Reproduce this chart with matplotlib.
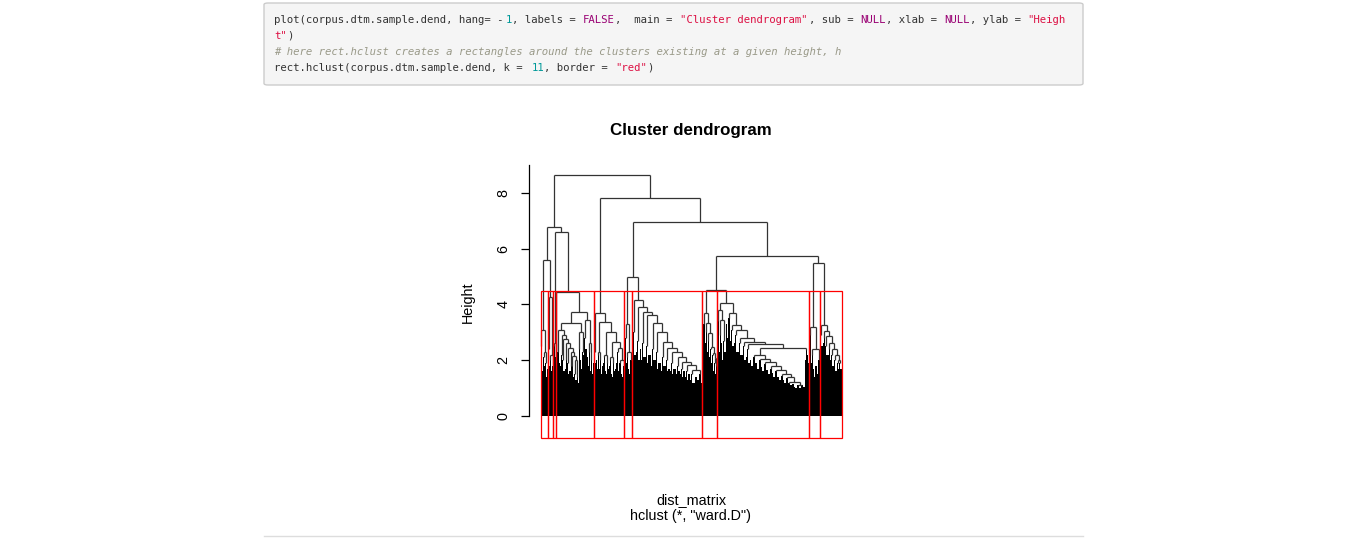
import matplotlib
matplotlib.use("Agg")
import matplotlib.pyplot as plt
from matplotlib.patches import Rectangle, FancyBboxPatch
from matplotlib.collections import LineCollection

W, H = 1346, 538

# --- code chunk shown above the plot ---
CODE_LINES = [
    [("plot(corpus.dtm.sample.dend, hang= -", "k"), ("1", "num"), (", labels = ", "k"),
     ("FALSE", "lit"), (",  main = ", "k"), ('"Cluster dendrogram"', "str"), (", sub = ", "k"),
     ("NULL", "lit"), (", xlab = ", "k"), ("NULL", "lit"), (", ylab = ", "k"), ('"Heigh', "str")],
    [('t"', "str"), (")", "k")],
    [("# here rect.hclust creates a rectangles around the clusters existing at a given height, h", "com")],
    [("rect.hclust(corpus.dtm.sample.dend, k = ", "k"), ("11", "num"), (", border = ", "k"),
     ('"red"', "str"), (")", "k")],
]
CODE_COLORS = {"k": "#333333", "num": "#009999", "lit": "#990073", "str": "#dd1144", "com": "#999988"}

# --- dendrogram data ---
# block = (leaf width, strip heights...) for the dense bottom part, merge = [height, left, right]
def ladder(heights, blocks, last):
    node = last
    for h, b in zip(reversed(heights), reversed(blocks)):
        node = [h, b, node]
    return node

C1 = [3.08, (1.6, 2.5, 1.9), [2.3, (3.0, 1.6, 2.1, 1.8), (3.0, 1.9, 1.4, 1.7)]]
C2 = [4.28, (1.4, 2.4, 1.8), [2.2, (1.9, 2.0, 1.6), (1.7, 1.5, 1.8)]]
C3 = [2.6, (1.2, 2.5), (1.5, 1.7, 2.1)]
C4 = [4.46, (1.4, 1.9, 1.5),
      [3.74,
       [3.32,
        ladder([3.08, 2.9, 2.75, 2.6, 2.45, 2.3, 2.15, 2.0],
               [(2.4, 2.3, 1.9), (2.4, 1.8, 2.2), (2.4, 2.0, 1.6), (2.4, 1.7, 2.0),
                (2.4, 1.9, 1.5), (2.4, 1.6, 1.8), (2.4, 1.8, 1.4), (2.4, 1.5, 1.3)],
               (1.9, 1.4, 1.2)),
        [3.0, (2.5, 2.4, 2.0), (2.0, 1.7, 2.3)]],
       [3.44, (3.5, 2.2, 2.8, 2.4),
        [2.6, (3.0, 2.1, 1.8, 2.3), (4.8, 1.6, 2.0, 1.5, 1.9)]]]]
C5 = [3.68, (1.4, 2.3, 1.9),
      [3.36, [2.3, (3, 2.0, 1.7, 2.2), (4, 1.7, 2.0, 1.5, 1.8)],
       [3.0, [2.2, (3, 1.9, 2.1, 1.6), (3, 1.5, 1.9, 1.7)],
        [2.67, [2.1, (3, 1.8, 2.0, 1.5), (4, 1.4, 1.9, 1.6, 1.7)],
         [2.45, (2.5, 1.9, 2.3), [2.0, (3.5, 1.6, 1.9, 1.5), (2.6, 1.4, 1.8)]]]]]]
C6 = [3.3, (1.6, 2.3, 2.8), [2.3, (3.0, 1.9, 2.1, 1.7), (2.8, 1.5, 2.0)]]
C7 = ladder([4.16, 3.92, 3.74, 3.62, 3.32, 3.02, 2.66, 2.43, 2.3, 2.13, 1.95, 1.83, 1.65],
            [(4, 2.6, 3.0, 2.2), (4, 2.3, 2.7, 2.0), (5, 2.4, 2.0, 2.6, 2.1), (5, 2.1, 2.5, 1.9, 2.2),
             (5, 2.2, 1.8, 2.4, 2.0), (5, 2.0, 2.3, 1.7, 1.9), (5, 1.9, 1.6, 2.1, 1.8),
             (5, 1.8, 2.0, 1.6, 1.7), (5, 1.6, 1.9, 1.5, 1.7), (5, 1.7, 1.5, 1.8, 1.6),
             (5, 1.5, 1.7, 1.4, 1.6), (5, 1.4, 1.6, 1.3, 1.5), (4, 1.3, 1.5, 1.2)],
            (8.6, 1.2, 1.4, 1.3, 1.5, 1.2))
C8 = ladder([3.68, 3.32, 2.96, 2.48, 2.25, 2.07],
            [(2.2, 2.9, 3.3), (2.2, 2.6, 3.0), (2.2, 2.3, 2.7), (2.2, 2.1, 2.4),
             (2, 1.9, 2.2), (2, 1.6, 1.9)],
            (1.6, 1.5, 1.8))
C9_low = ladder([2.19, 2.05, 1.95, 1.8, 1.65, 1.5, 1.38, 1.23, 1.12],
                [(5.5, 2.0, 1.8, 2.1), (5.5, 1.9, 1.7, 2.0), (5.5, 1.75, 1.6, 1.85),
                 (5.5, 1.65, 1.5, 1.7), (5.5, 1.55, 1.4, 1.6), (5.5, 1.4, 1.3, 1.45),
                 (5.5, 1.3, 1.2, 1.35), (5.5, 1.2, 1.1, 1.15), (5.5, 1.05, 1.0, 1.1)],
                (5.5, 1.0, 1.1, 1.05))
C9 = [4.04,
      [3.8, (2.0, 2.9, 3.4), [3.45, (3.0, 2.3, 2.9, 2.6), (3.8, 2.0, 2.7, 2.3)]],
      ladder([3.7, 3.26, 3.08, 2.8, 2.66, 2.58],
             [(4, 3.3, 2.8, 3.5), (4, 2.7, 3.1, 2.5), (4, 2.6, 2.9, 2.3),
              (4, 2.3, 2.6, 2.2), (4, 2.2, 2.5, 2.0), (4, 2.1, 2.4, 1.9)],
             [2.42, C9_low, (4.8, 2.0, 2.35, 2.2, 1.9)])]
C10 = [3.2, (1.4, 2.2, 2.9), [2.4, (3.0, 1.9, 2.2, 1.7), (6.3, 1.4, 1.8, 1.5, 2.0)]]
C11 = ladder([3.26, 3.05, 2.85, 2.6, 2.4, 2.2, 2.0],
             [(2.5, 2.9, 2.5), (2.5, 2.6, 2.8), (2.5, 2.5, 2.2), (2.5, 2.2, 2.4),
              (3, 2.0, 2.2, 1.8), (3, 1.8, 2.0, 1.6), (3, 1.6, 1.9, 1.7)],
             (2.7, 1.9, 1.7))

clusters = [C1, C2, C3, C4, C5, C6, C7, C8, C9, C10, C11]
tree = [8.64,
        [6.79, [5.59, C1, C2], [6.58, C3, C4]],
        [7.82, C5,
         [6.97, [4.99, C6, C7],
          [5.72, [4.52, C8, C9], [5.48, C10, C11]]]]]
cut_height = 4.49


def layout(node, x0, segs, bars):
    if isinstance(node, tuple):
        w, hs = node[0], node[1:]
        sw = w / len(hs)
        for j, h in enumerate(hs):
            bars.append((x0 + (j + 0.5) * sw, sw, h))
        top = max(hs)
        j = hs.index(top)
        return x0 + (j + 0.5) * sw, top, w
    h, left, right = node
    xl, hl, wl = layout(left, x0, segs, bars)
    xr, hr, wr = layout(right, x0 + wl, segs, bars)
    segs += [[(xl, hl), (xl, h)], [(xl, h), (xr, h)], [(xr, h), (xr, hr)]]
    return (xl + xr) / 2, h, wl + wr


def width(node):
    if isinstance(node, tuple):
        return node[0]
    return width(node[1]) + width(node[2])


plt.rcParams["font.family"] = ["Liberation Sans", "DejaVu Sans"]
fig = plt.figure(figsize=(W / 100, H / 100), dpi=100)

# code block
fig.patches.append(FancyBboxPatch((264 / W, 1 - 85 / H), (1083 - 264) / W, 82 / H,
                                  boxstyle="round,pad=0,rounding_size=0.003",
                                  transform=fig.transFigure, facecolor="#f5f5f5",
                                  edgecolor="#cccccc", linewidth=1))
char_w = 6.44
for i, line in enumerate(CODE_LINES):
    col = 0
    for txt, kind in line:
        fig.text((274 + col * char_w) / W, 1 - (20 + 16 * i) / H, txt, color=CODE_COLORS[kind],
                 family="DejaVu Sans Mono", fontsize=7.7, va="center", ha="left",
                 style="italic" if kind == "com" else "normal")
        col += len(txt)

fig.lines.append(plt.Line2D([264 / W, 1083 / W], [1 - 536 / H, 1 - 536 / H],
                            transform=fig.transFigure, color="#dddddd", lw=1))

# dendrogram axes
ylim = (-0.79, 9.0)
ax = fig.add_axes([528.7 / W, (H - 438) / H, 325 / W, 273 / H])
segs, bars = [], []
layout(tree, 0.0, segs, bars)
ax.bar([b[0] for b in bars], [b[2] for b in bars], width=[b[1] for b in bars],
       color="black", linewidth=0, zorder=2)
ax.add_collection(LineCollection(segs, colors="#333333", linewidths=0.9, zorder=3))

x0 = 0.0
for c in clusters:
    w = width(c)
    ax.add_patch(Rectangle((x0, ylim[0]), w, cut_height - ylim[0], fill=False,
                           edgecolor="red", linewidth=0.9, clip_on=False, zorder=4))
    x0 += w

ax.set_xlim(-12, 313)
ax.set_ylim(*ylim)
for s in ["top", "right", "bottom"]:
    ax.spines[s].set_visible(False)
ax.spines["left"].set_bounds(0, ylim[1])
ax.spines["left"].set_linewidth(0.9)
ax.set_xticks([])
ax.set_yticks([0, 2, 4, 6, 8])
ax.tick_params(axis="y", length=5.8, width=0.9, pad=7.5, labelsize=10.4)
for t in ax.get_yticklabels():
    t.set_rotation(90)
    t.set_va("center")
ax.patch.set_alpha(0)

fig.text(691 / W, 1 - 131 / H, "Cluster dendrogram", ha="center", va="center",
         fontsize=12.2, fontweight="bold")
fig.text(468 / W, 1 - 302 / H, "Height", ha="center", va="center", rotation=90, fontsize=10.4)
fig.text(691 / W, 1 - 500 / H, "dist_matrix", ha="center", va="center", fontsize=10.4)
fig.text(691 / W, 1 - 516 / H, 'hclust (*, "ward.D")', ha="center", va="center", fontsize=10.4)

fig.savefig("out.png", dpi=100)
